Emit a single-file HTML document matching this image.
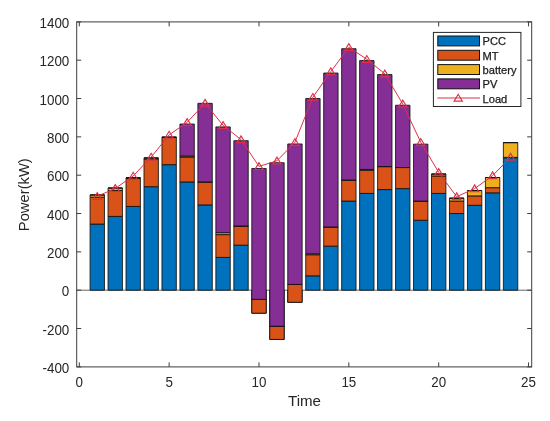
<!DOCTYPE html><html><head><meta charset="utf-8"><title>Power chart</title>
<style>html,body{margin:0;padding:0;background:#fff}svg{display:block}text{font-family:"Liberation Sans",Arial,sans-serif;fill:#262626}</style></head><body>
<svg width="550" height="421" viewBox="0 0 550 421">
<rect width="550" height="421" fill="#fff"/>
<line x1="76.7" y1="290.2" x2="531.7" y2="290.2" stroke="#555" stroke-width="0.9"/>
<g stroke="#111" stroke-width="0.85">
<path d="M90.08,224.07H104.46V290.20H90.08Z" fill="#0072BD"/>
<path d="M90.08,197.24H104.46V224.07H90.08Z" fill="#D95319"/>
<path d="M90.08,194.94H104.46V197.24H90.08Z" fill="#EDB120"/>
<path d="M90.08,194.94H104.46V194.94H90.08Z" fill="#842E96"/>
<path d="M108.05,216.41H122.43V290.20H108.05Z" fill="#0072BD"/>
<path d="M108.05,190.53H122.43V216.41H108.05Z" fill="#D95319"/>
<path d="M108.05,188.04H122.43V190.53H108.05Z" fill="#EDB120"/>
<path d="M108.05,188.04H122.43V188.04H108.05Z" fill="#842E96"/>
<path d="M126.02,206.44H140.40V290.20H126.02Z" fill="#0072BD"/>
<path d="M126.02,178.46H140.40V206.44H126.02Z" fill="#D95319"/>
<path d="M126.02,177.69H140.40V178.46H126.02Z" fill="#EDB120"/>
<path d="M126.02,177.69H140.40V177.69H126.02Z" fill="#842E96"/>
<path d="M143.99,186.70H158.37V290.20H143.99Z" fill="#0072BD"/>
<path d="M143.99,158.91H158.37V186.70H143.99Z" fill="#D95319"/>
<path d="M143.99,157.95H158.37V158.91H143.99Z" fill="#EDB120"/>
<path d="M143.99,157.95H158.37V157.95H143.99Z" fill="#842E96"/>
<path d="M161.96,164.66H176.34V290.20H161.96Z" fill="#0072BD"/>
<path d="M161.96,137.25H176.34V164.66H161.96Z" fill="#D95319"/>
<path d="M161.96,137.25H176.34V137.25H161.96Z" fill="#EDB120"/>
<path d="M161.96,137.25H176.34V137.25H161.96Z" fill="#842E96"/>
<path d="M179.93,181.91H194.31V290.20H179.93Z" fill="#0072BD"/>
<path d="M179.93,156.99H194.31V181.91H179.93Z" fill="#D95319"/>
<path d="M179.93,156.03H194.31V156.99H179.93Z" fill="#EDB120"/>
<path d="M179.93,124.02H194.31V156.03H179.93Z" fill="#842E96"/>
<path d="M197.90,204.91H212.28V290.20H197.90Z" fill="#0072BD"/>
<path d="M197.90,181.91H212.28V204.91H197.90Z" fill="#D95319"/>
<path d="M197.90,181.91H212.28V181.91H197.90Z" fill="#EDB120"/>
<path d="M197.90,103.32H212.28V181.91H197.90Z" fill="#842E96"/>
<path d="M215.87,257.42H230.25V290.20H215.87Z" fill="#0072BD"/>
<path d="M215.87,234.62H230.25V257.42H215.87Z" fill="#D95319"/>
<path d="M215.87,232.70H230.25V234.62H215.87Z" fill="#EDB120"/>
<path d="M215.87,126.90H230.25V232.70H215.87Z" fill="#842E96"/>
<path d="M233.84,245.16H248.22V290.20H233.84Z" fill="#0072BD"/>
<path d="M233.84,225.99H248.22V245.16H233.84Z" fill="#D95319"/>
<path d="M233.84,225.99H248.22V225.99H233.84Z" fill="#EDB120"/>
<path d="M233.84,140.70H248.22V225.99H233.84Z" fill="#842E96"/>
<path d="M251.81,290.20H266.19V313.20H251.81Z" fill="#0072BD"/>
<path d="M251.81,299.40H266.19V313.20H251.81Z" fill="#D95319"/>
<path d="M251.81,299.40H266.19V299.40H251.81Z" fill="#EDB120"/>
<path d="M251.81,168.49H266.19V299.40H251.81Z" fill="#842E96"/>
<path d="M269.78,290.20H284.16V339.46H269.78Z" fill="#0072BD"/>
<path d="M269.78,326.23H284.16V339.46H269.78Z" fill="#D95319"/>
<path d="M269.78,326.23H284.16V326.23H269.78Z" fill="#EDB120"/>
<path d="M269.78,162.74H284.16V326.23H269.78Z" fill="#842E96"/>
<path d="M287.75,290.20H302.13V302.28H287.75Z" fill="#0072BD"/>
<path d="M287.75,284.45H302.13V302.28H287.75Z" fill="#D95319"/>
<path d="M287.75,284.45H302.13V284.45H287.75Z" fill="#EDB120"/>
<path d="M287.75,143.96H302.13V284.45H287.75Z" fill="#842E96"/>
<path d="M305.72,275.82H320.10V290.20H305.72Z" fill="#0072BD"/>
<path d="M305.72,254.74H320.10V275.82H305.72Z" fill="#D95319"/>
<path d="M305.72,253.78H320.10V254.74H305.72Z" fill="#EDB120"/>
<path d="M305.72,98.53H320.10V253.78H305.72Z" fill="#842E96"/>
<path d="M323.69,246.12H338.07V290.20H323.69Z" fill="#0072BD"/>
<path d="M323.69,226.95H338.07V246.12H323.69Z" fill="#D95319"/>
<path d="M323.69,226.95H338.07V226.95H323.69Z" fill="#EDB120"/>
<path d="M323.69,73.04H338.07V226.95H323.69Z" fill="#842E96"/>
<path d="M341.66,201.07H356.04V290.20H341.66Z" fill="#0072BD"/>
<path d="M341.66,179.99H356.04V201.07H341.66Z" fill="#D95319"/>
<path d="M341.66,179.99H356.04V179.99H341.66Z" fill="#EDB120"/>
<path d="M341.66,48.70H356.04V179.99H341.66Z" fill="#842E96"/>
<path d="M359.63,193.41H374.01V290.20H359.63Z" fill="#0072BD"/>
<path d="M359.63,170.41H374.01V193.41H359.63Z" fill="#D95319"/>
<path d="M359.63,169.45H374.01V170.41H359.63Z" fill="#EDB120"/>
<path d="M359.63,60.58H374.01V169.45H359.63Z" fill="#842E96"/>
<path d="M377.60,189.57H391.98V290.20H377.60Z" fill="#0072BD"/>
<path d="M377.60,166.57H391.98V189.57H377.60Z" fill="#D95319"/>
<path d="M377.60,166.57H391.98V166.57H377.60Z" fill="#EDB120"/>
<path d="M377.60,74.57H391.98V166.57H377.60Z" fill="#842E96"/>
<path d="M395.57,188.61H409.95V290.20H395.57Z" fill="#0072BD"/>
<path d="M395.57,167.53H409.95V188.61H395.57Z" fill="#D95319"/>
<path d="M395.57,167.53H409.95V167.53H395.57Z" fill="#EDB120"/>
<path d="M395.57,105.24H409.95V167.53H395.57Z" fill="#842E96"/>
<path d="M413.54,220.24H427.92V290.20H413.54Z" fill="#0072BD"/>
<path d="M413.54,201.07H427.92V220.24H413.54Z" fill="#D95319"/>
<path d="M413.54,201.07H427.92V201.07H413.54Z" fill="#EDB120"/>
<path d="M413.54,144.15H427.92V201.07H413.54Z" fill="#842E96"/>
<path d="M431.51,193.41H445.89V290.20H431.51Z" fill="#0072BD"/>
<path d="M431.51,175.96H445.89V193.41H431.51Z" fill="#D95319"/>
<path d="M431.51,174.05H445.89V175.96H431.51Z" fill="#EDB120"/>
<path d="M431.51,174.05H445.89V174.05H431.51Z" fill="#842E96"/>
<path d="M449.48,213.53H463.86V290.20H449.48Z" fill="#0072BD"/>
<path d="M449.48,201.07H463.86V213.53H449.48Z" fill="#D95319"/>
<path d="M449.48,198.20H463.86V201.07H449.48Z" fill="#EDB120"/>
<path d="M449.48,198.20H463.86V198.20H449.48Z" fill="#842E96"/>
<path d="M467.45,205.29H481.83V290.20H467.45Z" fill="#0072BD"/>
<path d="M467.45,195.90H481.83V205.29H467.45Z" fill="#D95319"/>
<path d="M467.45,190.53H481.83V195.90H467.45Z" fill="#EDB120"/>
<path d="M467.45,190.53H481.83V190.53H467.45Z" fill="#842E96"/>
<path d="M485.42,192.83H499.80V290.20H485.42Z" fill="#0072BD"/>
<path d="M485.42,187.66H499.80V192.83H485.42Z" fill="#D95319"/>
<path d="M485.42,177.50H499.80V187.66H485.42Z" fill="#EDB120"/>
<path d="M485.42,177.50H499.80V177.50H485.42Z" fill="#842E96"/>
<path d="M503.39,157.76H517.77V290.20H503.39Z" fill="#0072BD"/>
<path d="M503.39,157.37H517.77V157.76H503.39Z" fill="#D95319"/>
<path d="M503.39,142.61H517.77V157.37H503.39Z" fill="#EDB120"/>
<path d="M503.39,142.61H517.77V142.61H503.39Z" fill="#842E96"/>
</g>
<polyline points="97.27,196.28 115.24,188.42 133.21,175.96 151.18,156.99 169.15,134.95 187.12,122.30 205.09,103.13 223.06,125.36 241.03,139.55 259.00,166.38 276.97,160.82 294.94,142.23 312.91,97.19 330.88,71.50 348.85,47.35 366.82,59.24 384.79,73.80 402.76,103.90 420.73,142.23 438.70,172.32 456.67,196.67 474.64,188.61 492.61,175.58 510.58,157.18" fill="none" stroke="#DC3048" stroke-width="1"/>
<path d="M93.17,199.38 L101.37,199.38 L97.27,192.58 Z" fill="none" stroke="#DC3048" stroke-width="1.15" stroke-linejoin="miter"/>
<path d="M111.14,191.52 L119.34,191.52 L115.24,184.72 Z" fill="none" stroke="#DC3048" stroke-width="1.15" stroke-linejoin="miter"/>
<path d="M129.11,179.06 L137.31,179.06 L133.21,172.26 Z" fill="none" stroke="#DC3048" stroke-width="1.15" stroke-linejoin="miter"/>
<path d="M147.08,160.09 L155.28,160.09 L151.18,153.29 Z" fill="none" stroke="#DC3048" stroke-width="1.15" stroke-linejoin="miter"/>
<path d="M165.05,138.05 L173.25,138.05 L169.15,131.25 Z" fill="none" stroke="#DC3048" stroke-width="1.15" stroke-linejoin="miter"/>
<path d="M183.02,125.40 L191.22,125.40 L187.12,118.60 Z" fill="none" stroke="#DC3048" stroke-width="1.15" stroke-linejoin="miter"/>
<path d="M200.99,106.23 L209.19,106.23 L205.09,99.43 Z" fill="none" stroke="#DC3048" stroke-width="1.15" stroke-linejoin="miter"/>
<path d="M218.96,128.46 L227.16,128.46 L223.06,121.66 Z" fill="none" stroke="#DC3048" stroke-width="1.15" stroke-linejoin="miter"/>
<path d="M236.93,142.65 L245.13,142.65 L241.03,135.85 Z" fill="none" stroke="#DC3048" stroke-width="1.15" stroke-linejoin="miter"/>
<path d="M254.90,169.48 L263.10,169.48 L259.00,162.68 Z" fill="none" stroke="#DC3048" stroke-width="1.15" stroke-linejoin="miter"/>
<path d="M272.87,163.92 L281.07,163.92 L276.97,157.12 Z" fill="none" stroke="#DC3048" stroke-width="1.15" stroke-linejoin="miter"/>
<path d="M290.84,145.33 L299.04,145.33 L294.94,138.53 Z" fill="none" stroke="#DC3048" stroke-width="1.15" stroke-linejoin="miter"/>
<path d="M308.81,100.29 L317.01,100.29 L312.91,93.49 Z" fill="none" stroke="#DC3048" stroke-width="1.15" stroke-linejoin="miter"/>
<path d="M326.78,74.60 L334.98,74.60 L330.88,67.80 Z" fill="none" stroke="#DC3048" stroke-width="1.15" stroke-linejoin="miter"/>
<path d="M344.75,50.45 L352.95,50.45 L348.85,43.65 Z" fill="none" stroke="#DC3048" stroke-width="1.15" stroke-linejoin="miter"/>
<path d="M362.72,62.34 L370.92,62.34 L366.82,55.54 Z" fill="none" stroke="#DC3048" stroke-width="1.15" stroke-linejoin="miter"/>
<path d="M380.69,76.90 L388.89,76.90 L384.79,70.10 Z" fill="none" stroke="#DC3048" stroke-width="1.15" stroke-linejoin="miter"/>
<path d="M398.66,107.00 L406.86,107.00 L402.76,100.20 Z" fill="none" stroke="#DC3048" stroke-width="1.15" stroke-linejoin="miter"/>
<path d="M416.63,145.33 L424.83,145.33 L420.73,138.53 Z" fill="none" stroke="#DC3048" stroke-width="1.15" stroke-linejoin="miter"/>
<path d="M434.60,175.42 L442.80,175.42 L438.70,168.62 Z" fill="none" stroke="#DC3048" stroke-width="1.15" stroke-linejoin="miter"/>
<path d="M452.57,199.77 L460.77,199.77 L456.67,192.97 Z" fill="none" stroke="#DC3048" stroke-width="1.15" stroke-linejoin="miter"/>
<path d="M470.54,191.71 L478.74,191.71 L474.64,184.91 Z" fill="none" stroke="#DC3048" stroke-width="1.15" stroke-linejoin="miter"/>
<path d="M488.51,178.68 L496.71,178.68 L492.61,171.88 Z" fill="none" stroke="#DC3048" stroke-width="1.15" stroke-linejoin="miter"/>
<path d="M506.48,160.28 L514.68,160.28 L510.58,153.48 Z" fill="none" stroke="#DC3048" stroke-width="1.15" stroke-linejoin="miter"/>
<rect x="76.7" y="21.9" width="455.00000000000006" height="345.0" fill="none" stroke="#3d3d3d" stroke-width="1"/>
<g stroke="#3d3d3d" stroke-width="1">
<line x1="79.30" y1="366.9" x2="79.30" y2="362.4"/>
<line x1="79.30" y1="21.9" x2="79.30" y2="26.4"/>
<line x1="169.15" y1="366.9" x2="169.15" y2="362.4"/>
<line x1="169.15" y1="21.9" x2="169.15" y2="26.4"/>
<line x1="259.00" y1="366.9" x2="259.00" y2="362.4"/>
<line x1="259.00" y1="21.9" x2="259.00" y2="26.4"/>
<line x1="348.85" y1="366.9" x2="348.85" y2="362.4"/>
<line x1="348.85" y1="21.9" x2="348.85" y2="26.4"/>
<line x1="438.70" y1="366.9" x2="438.70" y2="362.4"/>
<line x1="438.70" y1="21.9" x2="438.70" y2="26.4"/>
<line x1="528.55" y1="366.9" x2="528.55" y2="362.4"/>
<line x1="528.55" y1="21.9" x2="528.55" y2="26.4"/>
<line x1="76.7" y1="366.87" x2="81.2" y2="366.87"/>
<line x1="531.7" y1="366.87" x2="527.2" y2="366.87"/>
<line x1="76.7" y1="328.53" x2="81.2" y2="328.53"/>
<line x1="531.7" y1="328.53" x2="527.2" y2="328.53"/>
<line x1="76.7" y1="290.20" x2="81.2" y2="290.20"/>
<line x1="531.7" y1="290.20" x2="527.2" y2="290.20"/>
<line x1="76.7" y1="251.87" x2="81.2" y2="251.87"/>
<line x1="531.7" y1="251.87" x2="527.2" y2="251.87"/>
<line x1="76.7" y1="213.53" x2="81.2" y2="213.53"/>
<line x1="531.7" y1="213.53" x2="527.2" y2="213.53"/>
<line x1="76.7" y1="175.20" x2="81.2" y2="175.20"/>
<line x1="531.7" y1="175.20" x2="527.2" y2="175.20"/>
<line x1="76.7" y1="136.86" x2="81.2" y2="136.86"/>
<line x1="531.7" y1="136.86" x2="527.2" y2="136.86"/>
<line x1="76.7" y1="98.53" x2="81.2" y2="98.53"/>
<line x1="531.7" y1="98.53" x2="527.2" y2="98.53"/>
<line x1="76.7" y1="60.20" x2="81.2" y2="60.20"/>
<line x1="531.7" y1="60.20" x2="527.2" y2="60.20"/>
<line x1="76.7" y1="21.86" x2="81.2" y2="21.86"/>
<line x1="531.7" y1="21.86" x2="527.2" y2="21.86"/>
</g>
<text transform="translate(79.30,386.7) scale(0.957,1)" font-size="14.0" text-anchor="middle">0</text>
<text transform="translate(169.15,386.7) scale(0.957,1)" font-size="14.0" text-anchor="middle">5</text>
<text transform="translate(259.00,386.7) scale(0.957,1)" font-size="14.0" text-anchor="middle">10</text>
<text transform="translate(348.85,386.7) scale(0.957,1)" font-size="14.0" text-anchor="middle">15</text>
<text transform="translate(438.70,386.7) scale(0.957,1)" font-size="14.0" text-anchor="middle">20</text>
<text transform="translate(528.55,386.7) scale(0.957,1)" font-size="14.0" text-anchor="middle">25</text>
<text transform="translate(69.3,372.87) scale(0.957,1)" font-size="14.0" text-anchor="end">-400</text>
<text transform="translate(69.3,334.53) scale(0.957,1)" font-size="14.0" text-anchor="end">-200</text>
<text transform="translate(69.3,296.20) scale(0.957,1)" font-size="14.0" text-anchor="end">0</text>
<text transform="translate(69.3,257.87) scale(0.957,1)" font-size="14.0" text-anchor="end">200</text>
<text transform="translate(69.3,219.53) scale(0.957,1)" font-size="14.0" text-anchor="end">400</text>
<text transform="translate(69.3,181.20) scale(0.957,1)" font-size="14.0" text-anchor="end">600</text>
<text transform="translate(69.3,142.86) scale(0.957,1)" font-size="14.0" text-anchor="end">800</text>
<text transform="translate(69.3,104.53) scale(0.957,1)" font-size="14.0" text-anchor="end">1000</text>
<text transform="translate(69.3,66.20) scale(0.957,1)" font-size="14.0" text-anchor="end">1200</text>
<text transform="translate(69.3,27.86) scale(0.957,1)" font-size="14.0" text-anchor="end">1400</text>
<text x="304.5" y="406" font-size="15.1" text-anchor="middle">Time</text>
<text transform="translate(29.2,194.7) rotate(-90)" font-size="14.75" text-anchor="middle">Power(kW)</text>
<g>
<rect x="433.4" y="32.4" width="87.5" height="74.1" fill="#fff" stroke="#262626" stroke-width="1"/>
<rect x="437.8" y="36.00" width="41.7" height="9.9" fill="#0072BD" stroke="#111" stroke-width="1"/>
<text x="482.6" y="45.40" font-size="11.1" fill="#111" stroke="#111" stroke-width="0.25">PCC</text>
<rect x="437.8" y="50.30" width="41.7" height="9.9" fill="#D95319" stroke="#111" stroke-width="1"/>
<text x="482.6" y="59.70" font-size="11.1" fill="#111" stroke="#111" stroke-width="0.25">MT</text>
<rect x="437.8" y="64.60" width="41.7" height="9.9" fill="#EDB120" stroke="#111" stroke-width="1"/>
<text x="482.6" y="74.00" font-size="11.1" fill="#111" stroke="#111" stroke-width="0.25">battery</text>
<rect x="437.8" y="78.90" width="41.7" height="9.9" fill="#842E96" stroke="#111" stroke-width="1"/>
<text x="482.6" y="88.30" font-size="11.1" fill="#111" stroke="#111" stroke-width="0.25">PV</text>
<line x1="437.3" y1="98.00" x2="480" y2="98.00" stroke="#DC3048" stroke-width="1.1"/>
<path d="M454.10,101.10 L462.30,101.10 L458.20,94.30 Z" fill="none" stroke="#DC3048" stroke-width="1.15" stroke-linejoin="miter"/>
<text x="482.6" y="102.90" font-size="11.1" fill="#111" stroke="#111" stroke-width="0.25">Load</text>
</g>
</svg></body></html>
